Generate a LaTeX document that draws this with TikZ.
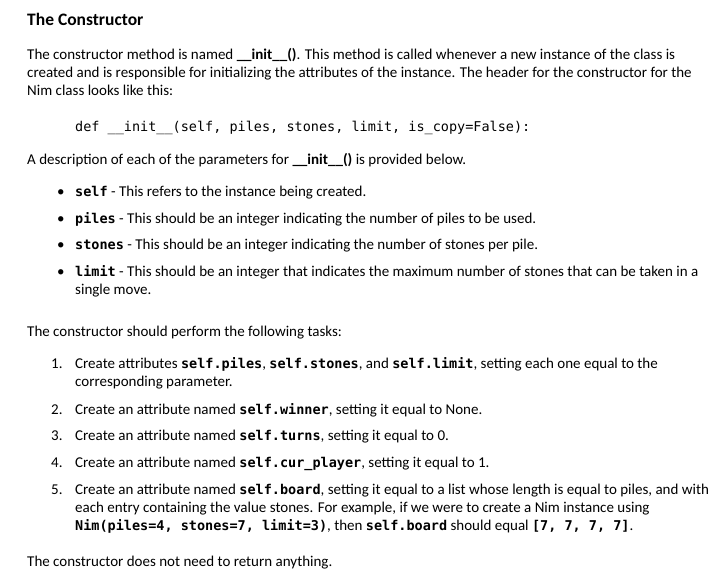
\documentclass[tikz,border=0pt]{standalone}
\usepackage{fontspec}
\setmainfont{Carlito}
\newfontfamily\cd[Scale=0.9]{DejaVu Sans Mono}
\newcommand{\cb}[1]{{\cd\bfseries #1}}
\begin{document}
\begin{tikzpicture}[x=1pt,y=1pt,
  txt/.style={anchor=base west,inner sep=0pt,font=\fontsize{15}{17}\selectfont},
  ttl/.style={anchor=base west,inner sep=0pt,font=\fontsize{17.5}{20}\selectfont\bfseries}]
\useasboundingbox (0,0) rectangle (720,-576);
\node[ttl] (title) at (27,-25) {The Constructor};
\node[txt] (p1) at (27,-59) {The constructor method is named \textbf{\_\_init\_\_()}. This method is called whenever a new instance of the class is};
\node[txt] (p2) at (27,-77) {created and is responsible for initializing the attributes of the instance. The header for the constructor for the};
\node[txt] (p3) at (27,-95) {Nim class looks like this:};
\node[txt] (def) at (75,-131) {\cd def \_\_init\_\_(self, piles, stones, limit, is\_copy=False):};
\node[txt] (desc) at (27,-164) {A description of each of the parameters for \textbf{\_\_init\_\_()} is provided below.};
\foreach \n/\y in {b1/196,b2/223,b3/249,b4/276}{\node[txt] (\n d) at (57,-\y) {\textbullet};}
\node[txt] (b1) at (75,-196) {\cb{self} - This refers to the instance being created.};
\node[txt] (b2) at (75,-223) {\cb{piles} - This should be an integer indicating the number of piles to be used.};
\node[txt] (b3) at (75,-249) {\cb{stones} - This should be an integer indicating the number of stones per pile.};
\node[txt] (b4) at (75,-276) {\cb{limit} - This should be an integer that indicates the maximum number of stones that can be taken in a};
\node[txt] (b4b) at (75,-294) {single move.};
\node[txt] (tasks) at (27,-336) {The constructor should perform the following tasks:};
\foreach \n/\y in {1/368,2/414,3/440,4/467,5/494}{\node[txt] (n\n) at (51,-\y) {\n.};}
\node[txt] (i1) at (75,-368) {Create attributes \cb{self.piles}, \cb{self.stones}, and \cb{self.limit}, setting each one equal to the};
\node[txt] (i1b) at (75,-386) {corresponding parameter.};
\node[txt] (i2) at (75,-414) {Create an attribute named \cb{self.winner}, setting it equal to None.};
\node[txt] (i3) at (75,-440) {Create an attribute named \cb{self.turns}, setting it equal to 0.};
\node[txt] (i4) at (75,-467) {Create an attribute named \cb{self.cur\_player}, setting it equal to 1.};
\node[txt] (i5) at (75,-494) {Create an attribute named \cb{self.board}, setting it equal to a list whose length is equal to piles, and with};
\node[txt] (i5b) at (75,-512) {each entry containing the value stones. For example, if we were to create a Nim instance using};
\node[txt] (i5c) at (75,-530) {\cb{Nim(piles=4, stones=7, limit=3)}, then \cb{self.board} should equal \cb{[7, 7, 7, 7]}.};
\node[txt] (end) at (27,-566) {The constructor does not need to return anything.};
\end{tikzpicture}
\end{document}
